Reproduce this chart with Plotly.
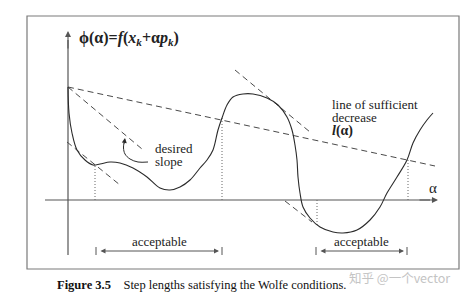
import plotly.graph_objects as go

# ---- data (diagram units: alpha to the right, phi upward, origin at axes crossing) ----
curve_alpha = [0, 1, 4, 9, 17, 25, 32, 42, 52, 65, 79, 92, 102, 112, 122, 132, 139, 145, 150, 154,
               159, 165, 175, 185, 199, 210, 219, 224, 227, 229, 230, 232, 235, 242, 252, 265,
               275, 289, 302, 312, 319, 329, 339, 345, 352, 359, 365]
curve_phi = [113, 87, 67, 50, 40, 35, 36, 38, 37, 32, 23, 12, 10, 13, 20, 32, 40, 50, 70, 82,
             95, 103, 106, 106, 102, 95, 83, 70, 55, 40, 23, 7, -7, -18, -27, -32,
             -33, -30, -20, -7, 7, 23, 40, 57, 70, 80, 87]

suff_alpha = [0, 367]
suff_phi = [113, 34]
desired_alpha = [0, 74]
desired_phi = [113, 51]
tan1_alpha = [-1, 52]
tan1_phi = [58, 15]
tan2_alpha = [167, 242]
tan2_phi = [130, 68]
tan3_alpha = [217, 244]
tan3_phi = [-1, -22]

dotted_alpha = [27, 154, 249, 340]
dotted_phi = [35, 82, -25, 40]

acc_left = [28, 154]
acc_right = [248, 339]

hook_alpha = [80, 70, 62, 57, 55.5, 56]
hook_phi = [38, 38, 41, 46, 52, 57]

frame_alpha = [-41, 391]
frame_phi = [-69, 184]

CURVE = "#2b2b2b"
DASH = "#4a4a4a"
AX = "#555555"
SERIF = "Liberation Serif"

fig = go.Figure()

# frame
fig.add_shape(type="rect", x0=frame_alpha[0], x1=frame_alpha[1], y0=frame_phi[0], y1=frame_phi[1],
              line=dict(color="#7a7a7a", width=1.2), layer="below")

# axes
fig.add_trace(go.Scatter(x=[0, 0], y=[-55, 160], mode="lines", line=dict(color=AX, width=1.2), hoverinfo="skip"))
fig.add_trace(go.Scatter(x=[-23, 362], y=[0, 0], mode="lines", line=dict(color=AX, width=1.2), hoverinfo="skip"))
fig.add_annotation(x=0, y=169, ax=0, ay=150, xref="x", yref="y", axref="x", ayref="y",
                   showarrow=True, arrowhead=2, arrowsize=1.1, arrowwidth=1.1, arrowcolor=AX, text="")
fig.add_annotation(x=370, y=0, ax=350, ay=0, xref="x", yref="y", axref="x", ayref="y",
                   showarrow=True, arrowhead=2, arrowsize=1.1, arrowwidth=1.1, arrowcolor=AX, text="")

# dashed lines
for xs, ys in [(suff_alpha, suff_phi), (desired_alpha, desired_phi), (tan1_alpha, tan1_phi),
               (tan2_alpha, tan2_phi), (tan3_alpha, tan3_phi)]:
    fig.add_trace(go.Scatter(x=xs, y=ys, mode="lines",
                             line=dict(color=DASH, width=1, dash="6px,4px"), hoverinfo="skip"))

# dotted verticals
for a, p in zip(dotted_alpha, dotted_phi):
    fig.add_trace(go.Scatter(x=[a, a], y=[0, p], mode="lines",
                             line=dict(color="#666666", width=1, dash="1px,2px"), hoverinfo="skip"))

# main curve
fig.add_trace(go.Scatter(x=curve_alpha, y=curve_phi, mode="lines",
                         line=dict(color=CURVE, width=1.1, shape="spline", smoothing=1), hoverinfo="skip"))

# desired slope hook arrow
fig.add_trace(go.Scatter(x=hook_alpha, y=hook_phi, mode="lines",
                         line=dict(color=CURVE, width=1, shape="spline"), hoverinfo="skip"))
fig.add_annotation(x=57, y=62, ax=56, ay=55, xref="x", yref="y", axref="x", ayref="y",
                   showarrow=True, arrowhead=2, arrowsize=1, arrowwidth=1, arrowcolor=CURVE, text="")

# acceptable intervals
for lo, hi, in [acc_left, acc_right]:
    fig.add_annotation(x=hi - 3, y=-51, ax=lo + 3, ay=-51, xref="x", yref="y", axref="x", ayref="y",
                       showarrow=True, arrowhead=2, startarrowhead=2, arrowside="end+start",
                       arrowsize=1, startarrowsize=1, arrowwidth=1, arrowcolor=AX, text="")
    for e in (lo, hi):
        fig.add_trace(go.Scatter(x=[e, e], y=[-47, -55], mode="lines",
                                 line=dict(color=AX, width=1), hoverinfo="skip"))
    fig.add_annotation(x=(lo + hi) / 2, y=-41, text="acceptable", showarrow=False,
                       font=dict(family=SERIF, size=13, color="#222"), xanchor="center", yanchor="middle")

# texts
fig.add_annotation(x=9, y=162, xanchor="left", yanchor="middle", showarrow=False,
                   text="<b>ϕ(α)=<i>f</i>(<i>x</i><sub><i>k</i></sub>+α<i>p</i><sub><i>k</i></sub>)</b>",
                   font=dict(family=SERIF, size=16, color="#222"))
fig.add_annotation(x=85, y=52, xanchor="left", yanchor="middle", showarrow=False, text="desired",
                   font=dict(family=SERIF, size=13, color="#222"))
fig.add_annotation(x=85, y=39, xanchor="left", yanchor="middle", showarrow=False, text="slope",
                   font=dict(family=SERIF, size=13, color="#222"))
fig.add_annotation(x=262, y=95.5, xanchor="left", yanchor="middle", showarrow=False, text="line of sufficient",
                   font=dict(family=SERIF, size=13, color="#222"))
fig.add_annotation(x=262, y=83, xanchor="left", yanchor="middle", showarrow=False, text="decrease",
                   font=dict(family=SERIF, size=13, color="#222"))
fig.add_annotation(x=262, y=69.5, xanchor="left", yanchor="middle", showarrow=False, text="<b><i>l</i>(α)</b>",
                   font=dict(family=SERIF, size=14, color="#222"))
fig.add_annotation(x=365, y=12, xanchor="center", yanchor="middle", showarrow=False, text="α",
                   font=dict(family=SERIF, size=15, color="#222"))

# caption
fig.add_annotation(x=-13, y=-85, xanchor="left", yanchor="middle", showarrow=False,
                   text="<b>Figure 3.5</b>    Step lengths satisfying the Wolfe conditions.",
                   font=dict(family=SERIF, size=12.5, color="#111"))
fig.add_annotation(x=279, y=-77, xanchor="left", yanchor="middle", showarrow=False,
                   text="知乎 @一个vector",
                   font=dict(family="Noto Sans CJK SC", size=12.5, color="#c4c4c4"))

fig.update_layout(width=474, height=298, margin=dict(l=0, r=0, t=0, b=0),
                  paper_bgcolor="white", plot_bgcolor="white", showlegend=False,
                  xaxis=dict(range=[-68, 406], visible=False, fixedrange=True),
                  yaxis=dict(range=[-98, 200], visible=False, fixedrange=True))

fig.write_html("out.html")
